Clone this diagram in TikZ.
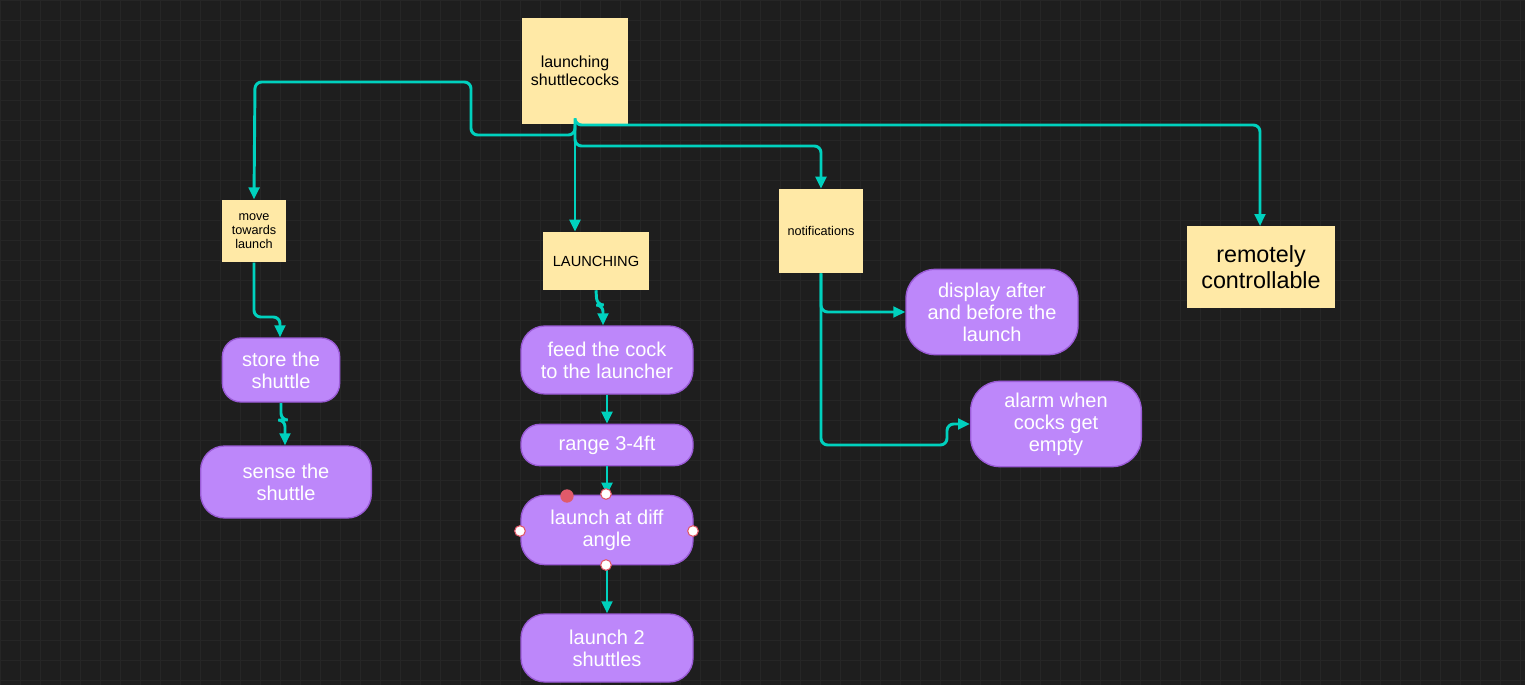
\documentclass[tikz,border=0pt]{standalone}
\usepackage{fontspec}
\setmainfont{Liberation Sans}
\usetikzlibrary{arrows.meta}
\definecolor{bg}{HTML}{1E1E1E}
\definecolor{gridc}{HTML}{262626}
\definecolor{note}{HTML}{FFE9A6}
\definecolor{purp}{HTML}{BD87FA}
\definecolor{purpd}{HTML}{9A5BD6}
\definecolor{teal}{HTML}{00D1BE}
\definecolor{sel}{HTML}{E05A6A}
\begin{document}
\begin{tikzpicture}[x=0.75pt,y=-0.75pt,
  box/.style={draw=none,fill=note,text=black,align=center,inner sep=1pt,minimum width=#1},
  pill/.style={draw=purpd,line width=1pt,fill=purp,text=white,rounded corners=14pt,align=center,font=\fontsize{15}{16.5}\selectfont,inner sep=1pt},
  conn/.style={draw=teal,line width=2.2pt,rounded corners=5pt,-{Triangle[length=9pt,width=8pt]}},
  handle/.style={circle,draw=sel,fill=white,line width=0.8pt,inner sep=0pt,minimum size=8pt}]
\fill[bg] (0,0) rectangle (1525,685);
\useasboundingbox (0,0) rectangle (1525,685);
\foreach \i in {0,20,...,1520} \draw[gridc,line width=0.4pt] (\i,0)--(\i,685);
\foreach \j in {0,20,...,680} \draw[gridc,line width=0.4pt] (0,\j)--(1525,\j);
% notes
\node[box,minimum width=79.5pt,minimum height=79.5pt,font=\fontsize{12}{13.5}\selectfont] (root) at (575,71) {launching\\shuttlecocks};
\node[box,minimum width=48pt,minimum height=47pt,font=\fontsize{9.5}{10.5}\selectfont] (move) at (254,231) {move\\towards\\launch};
\node[box,minimum width=80pt,minimum height=43.5pt,font=\fontsize{11}{12}\selectfont] (launching) at (596,261) {LAUNCHING};
\node[box,minimum width=63pt,minimum height=63pt,font=\fontsize{9.5}{10.5}\selectfont] (notif) at (821,231) {notifications};
\node[box,minimum width=111pt,minimum height=61pt,font=\fontsize{17.5}{20}\selectfont] (remote) at (1261,267) {remotely\\controllable};
% pills
\node[pill,minimum width=88pt,minimum height=48pt] (store) at (281,370) {store the\\shuttle};
\node[pill,minimum width=128pt,minimum height=54pt,rounded corners=18pt] (sense) at (286,482) {sense the\\shuttle};
\node[pill,minimum width=129pt,minimum height=51pt,rounded corners=18pt] (feed) at (607,360) {feed the cock\\to the launcher};
\node[pill,minimum width=129pt,minimum height=31pt] (range) at (607,445) {range 3-4ft};
\node[pill,minimum width=129pt,minimum height=52pt,rounded corners=18pt] (angle) at (607,530) {launch at diff\\angle};
\node[pill,minimum width=129pt,minimum height=51pt,rounded corners=18pt] (two) at (607,648) {launch 2\\shuttles};
\node[pill,minimum width=129pt,minimum height=64pt,rounded corners=22pt] (display) at (992,312) {display after\\and before the\\launch};
\node[pill,minimum width=128pt,minimum height=64pt,rounded corners=22pt] (alarm) at (1056,424) {alarm when\\cocks get\\empty};
% connectors
\draw[conn] (root.south) -- (575,135) -- (471,135) -- (471,82) -- (255,82) -- (move.north);
\draw[conn] (root.south) -- (575,232) -- (launching.north -| 575,0);
\draw[conn] (root.south) |- (821,146) -- (notif.north);
\draw[conn] (root.south) -- (575,125) -- (1260,125) -- (remote.north -| 1260,0);
\draw[conn] (move.south) -- (254,317) -- (280,317) -- (store.north -| 280,0);
\draw[conn] (281,403) -- (281,420) -- (285,420) -- (sense.north -| 285,0);
\draw[conn] (launching.south) -- (597,305) -- (603,305) -- (feed.north -| 603,0);
\draw[conn] (feed.south) -- (range.north);
\draw[conn] (range.south) -- (angle.north);
\draw[conn] (angle.south) -- (two.north);
\draw[conn] (notif.south) |- (display.west);
\draw[conn] (notif.south) -- (821,445) -- (947,445) -- (947,424) -- (alarm.west);
% selection handles
\node[handle] (h1) at (606,494) {};
\node[handle] (h2) at (520,531) {};
\node[handle] (h3) at (693,531) {};
\node[handle] (h4) at (606,565) {};
\node[circle,fill=sel,inner sep=0pt,minimum size=10pt] (h5) at (567,496) {};
\end{tikzpicture}
\end{document}
